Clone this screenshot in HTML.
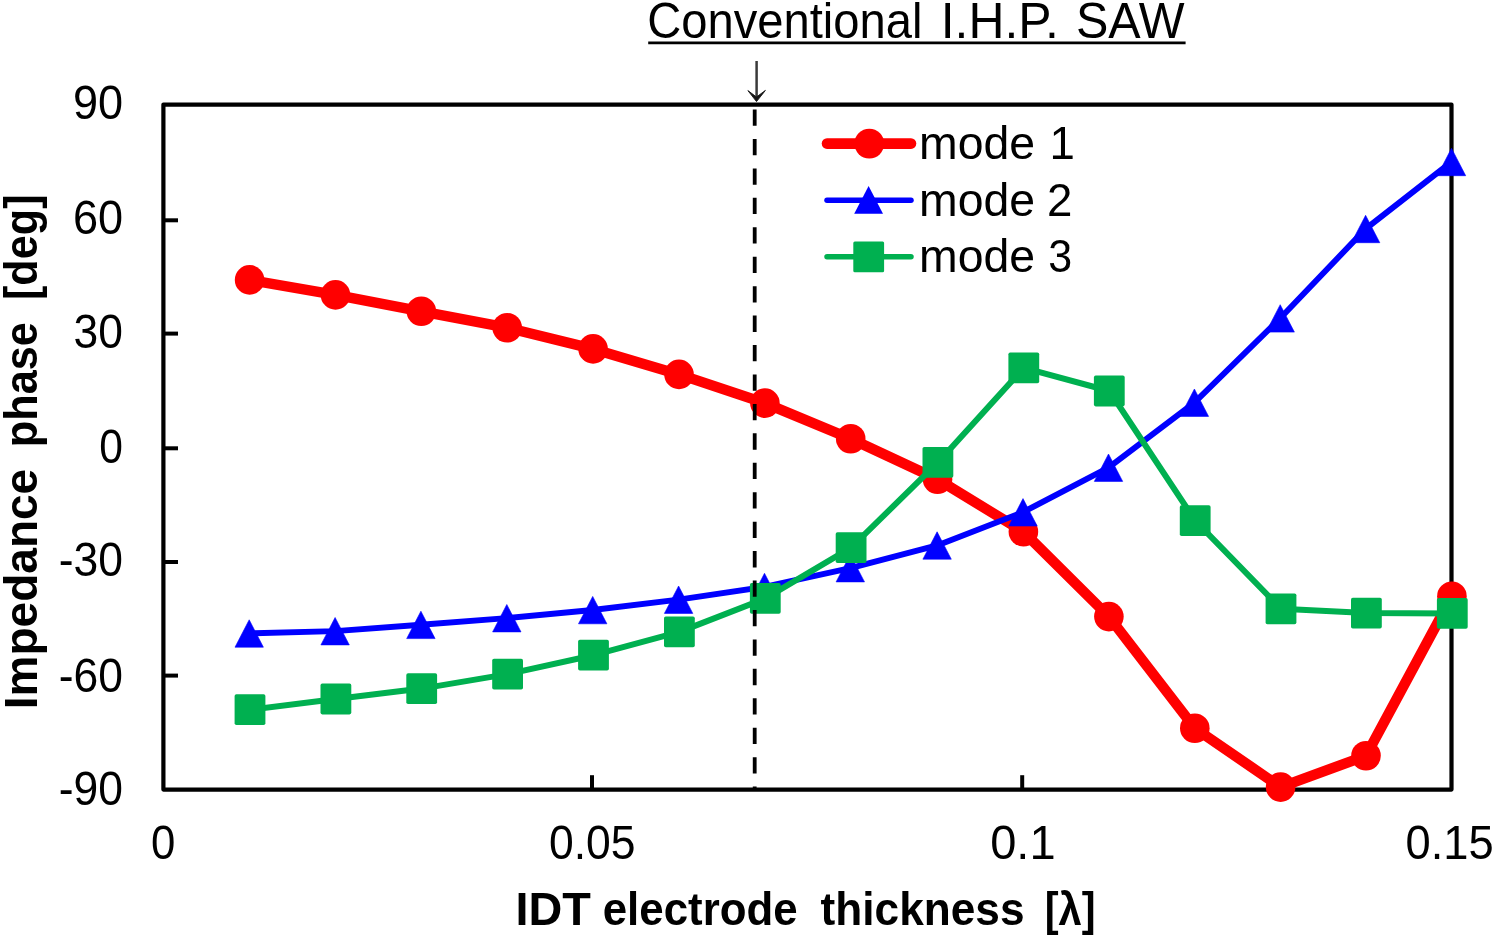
<!DOCTYPE html>
<html lang="en"><head><meta charset="utf-8"><title>Impedance phase vs IDT electrode thickness</title>
<style>
html,body{margin:0;padding:0;background:#fff;}
body{width:1493px;height:936px;overflow:hidden;}
svg{display:block;}
text{font-family:"Liberation Sans",sans-serif;fill:#000;}
.b{font-weight:bold;}
</style></head><body>
<svg width="1493" height="936" viewBox="0 0 1493 936">
<rect width="1493" height="936" fill="#fff"/>
<rect x="163.4" y="104.6" width="1288.1" height="685.0" fill="none" stroke="#000" stroke-width="4.2" stroke-linejoin="round"/>
<line x1="163.4" y1="220.3" x2="178.0" y2="220.3" stroke="#000" stroke-width="4"/>
<line x1="163.4" y1="333.6" x2="178.0" y2="333.6" stroke="#000" stroke-width="4"/>
<line x1="163.4" y1="448.3" x2="178.0" y2="448.3" stroke="#000" stroke-width="4"/>
<line x1="163.4" y1="562.0" x2="178.0" y2="562.0" stroke="#000" stroke-width="4"/>
<line x1="163.4" y1="675.6" x2="178.0" y2="675.6" stroke="#000" stroke-width="4"/>
<line x1="592.0" y1="789.6" x2="592.0" y2="775.2" stroke="#000" stroke-width="4"/>
<line x1="1022.2" y1="789.6" x2="1022.2" y2="775.2" stroke="#000" stroke-width="4"/>
<polyline points="249.6,279.9 335.5,294.9 421.3,311.3 507.2,327.7 593.1,348.9 679.0,374.4 764.9,403.1 850.7,438.7 937.5,479.3 1023.4,531.7 1108.9,616.6 1194.8,728.2 1280.6,787.1 1366.0,755.8 1451.9,596.3" fill="none" stroke="#ff0000" stroke-width="10.4" stroke-linejoin="round" stroke-linecap="round"/>
<circle cx="249.6" cy="279.9" r="14.8" fill="#ff0000"/>
<circle cx="335.5" cy="294.9" r="14.8" fill="#ff0000"/>
<circle cx="421.3" cy="311.3" r="14.8" fill="#ff0000"/>
<circle cx="507.2" cy="327.7" r="14.8" fill="#ff0000"/>
<circle cx="593.1" cy="348.9" r="14.8" fill="#ff0000"/>
<circle cx="679.0" cy="374.4" r="14.8" fill="#ff0000"/>
<circle cx="764.9" cy="403.1" r="14.8" fill="#ff0000"/>
<circle cx="850.7" cy="438.7" r="14.8" fill="#ff0000"/>
<circle cx="937.5" cy="479.3" r="14.8" fill="#ff0000"/>
<circle cx="1023.4" cy="531.7" r="14.8" fill="#ff0000"/>
<circle cx="1108.9" cy="616.6" r="14.8" fill="#ff0000"/>
<circle cx="1194.8" cy="728.2" r="14.8" fill="#ff0000"/>
<circle cx="1280.6" cy="787.1" r="14.8" fill="#ff0000"/>
<circle cx="1366.0" cy="755.8" r="14.8" fill="#ff0000"/>
<circle cx="1451.9" cy="596.3" r="14.8" fill="#ff0000"/>
<polyline points="249.2,633.4 335.1,631.1 420.9,624.8 506.8,618.1 592.7,610.0 678.6,599.6 764.5,586.9 850.3,568.1 937.1,545.4 1023.0,512.2 1108.5,467.6 1194.4,402.6 1280.2,318.3 1365.6,228.9 1451.5,161.9" fill="none" stroke="#0000ff" stroke-width="5.9" stroke-linejoin="round" stroke-linecap="round"/>
<polygon points="249.2,619.8 263.4,647.2 235.0,647.2" fill="#0000ff" stroke="#0000ff" stroke-width="0.6" stroke-linejoin="round"/>
<polygon points="335.1,617.5 349.3,644.9 320.9,644.9" fill="#0000ff" stroke="#0000ff" stroke-width="0.6" stroke-linejoin="round"/>
<polygon points="420.9,611.2 435.1,638.6 406.7,638.6" fill="#0000ff" stroke="#0000ff" stroke-width="0.6" stroke-linejoin="round"/>
<polygon points="506.8,604.5 521.0,631.9 492.6,631.9" fill="#0000ff" stroke="#0000ff" stroke-width="0.6" stroke-linejoin="round"/>
<polygon points="592.7,596.4 606.9,623.8 578.5,623.8" fill="#0000ff" stroke="#0000ff" stroke-width="0.6" stroke-linejoin="round"/>
<polygon points="678.6,586.0 692.8,613.4 664.4,613.4" fill="#0000ff" stroke="#0000ff" stroke-width="0.6" stroke-linejoin="round"/>
<polygon points="764.5,573.3 778.7,600.7 750.3,600.7" fill="#0000ff" stroke="#0000ff" stroke-width="0.6" stroke-linejoin="round"/>
<polygon points="850.3,554.5 864.5,581.9 836.1,581.9" fill="#0000ff" stroke="#0000ff" stroke-width="0.6" stroke-linejoin="round"/>
<polygon points="937.1,531.8 951.3,559.2 922.9,559.2" fill="#0000ff" stroke="#0000ff" stroke-width="0.6" stroke-linejoin="round"/>
<polygon points="1023.0,498.6 1037.2,526.0 1008.8,526.0" fill="#0000ff" stroke="#0000ff" stroke-width="0.6" stroke-linejoin="round"/>
<polygon points="1108.5,454.0 1122.7,481.4 1094.3,481.4" fill="#0000ff" stroke="#0000ff" stroke-width="0.6" stroke-linejoin="round"/>
<polygon points="1194.4,389.0 1208.6,416.4 1180.2,416.4" fill="#0000ff" stroke="#0000ff" stroke-width="0.6" stroke-linejoin="round"/>
<polygon points="1280.2,304.7 1294.4,332.1 1266.0,332.1" fill="#0000ff" stroke="#0000ff" stroke-width="0.6" stroke-linejoin="round"/>
<polygon points="1365.6,215.3 1379.8,242.7 1351.4,242.7" fill="#0000ff" stroke="#0000ff" stroke-width="0.6" stroke-linejoin="round"/>
<polygon points="1451.5,148.3 1465.7,175.7 1437.3,175.7" fill="#0000ff" stroke="#0000ff" stroke-width="0.6" stroke-linejoin="round"/>
<polyline points="250.0,709.7 335.9,699.0 421.7,688.6 507.6,674.1 593.5,655.2 679.4,631.9 765.3,598.4 851.1,547.7 937.9,462.4 1023.8,367.8 1109.3,391.0 1195.2,520.6 1281.0,608.8 1366.4,613.1 1452.3,613.4" fill="none" stroke="#00b050" stroke-width="6.0" stroke-linejoin="round" stroke-linecap="round"/>
<rect x="234.6" y="694.3" width="30.8" height="30.8" rx="1.8" fill="#00b050"/>
<rect x="320.5" y="683.6" width="30.8" height="30.8" rx="1.8" fill="#00b050"/>
<rect x="406.3" y="673.2" width="30.8" height="30.8" rx="1.8" fill="#00b050"/>
<rect x="492.2" y="658.7" width="30.8" height="30.8" rx="1.8" fill="#00b050"/>
<rect x="578.1" y="639.8" width="30.8" height="30.8" rx="1.8" fill="#00b050"/>
<rect x="664.0" y="616.5" width="30.8" height="30.8" rx="1.8" fill="#00b050"/>
<rect x="749.9" y="583.0" width="30.8" height="30.8" rx="1.8" fill="#00b050"/>
<rect x="835.7" y="532.3" width="30.8" height="30.8" rx="1.8" fill="#00b050"/>
<rect x="922.5" y="447.0" width="30.8" height="30.8" rx="1.8" fill="#00b050"/>
<rect x="1008.4" y="352.4" width="30.8" height="30.8" rx="1.8" fill="#00b050"/>
<rect x="1093.9" y="375.6" width="30.8" height="30.8" rx="1.8" fill="#00b050"/>
<rect x="1179.8" y="505.2" width="30.8" height="30.8" rx="1.8" fill="#00b050"/>
<rect x="1265.6" y="593.4" width="30.8" height="30.8" rx="1.8" fill="#00b050"/>
<rect x="1351.0" y="597.7" width="30.8" height="30.8" rx="1.8" fill="#00b050"/>
<rect x="1436.9" y="598.0" width="30.8" height="30.8" rx="1.8" fill="#00b050"/>
<line x1="754.7" y1="109.5" x2="754.7" y2="789.6" stroke="#000" stroke-width="3.8" stroke-dasharray="16.3 13.14"/>
<line x1="756.6" y1="61" x2="756.6" y2="98" stroke="#3a3a3a" stroke-width="2.5"/>
<polygon points="747.9,90.6 756.5,101.6 765.4,90.4 756.5,97.0" fill="#151515" stroke="#151515" stroke-width="0.9" stroke-linejoin="round"/>
<line x1="648.2" y1="42.9" x2="1185.6" y2="42.9" stroke="#000" stroke-width="2.7"/>
<line x1="827" y1="143.6" x2="911" y2="143.6" stroke="#ff0000" stroke-width="10.6" stroke-linecap="round"/>
<circle cx="869.3" cy="143.6" r="14.9" fill="#ff0000"/>
<line x1="827" y1="200.3" x2="911" y2="200.3" stroke="#0000ff" stroke-width="5.5" stroke-linecap="round"/>
<polygon points="868.6,186.1 883,213.7 854.2,213.7" fill="#0000ff"/>
<line x1="827" y1="256.8" x2="911" y2="256.8" stroke="#00b050" stroke-width="5.5" stroke-linecap="round"/>
<rect x="853.3" y="241.4" width="30.8" height="30.8" rx="1.5" fill="#00b050"/>
<text font-size="50.6"><tspan x="647.19" y="37.9" textLength="275.22" lengthAdjust="spacingAndGlyphs">Conventional</tspan> <tspan x="940.71" y="37.9" textLength="118.2" lengthAdjust="spacingAndGlyphs">I.H.P.</tspan> <tspan x="1075.98" y="37.9" textLength="108.67" lengthAdjust="spacingAndGlyphs">SAW</tspan></text>
<text font-size="48.2"><tspan x="72.89" y="119.3" textLength="50.14" lengthAdjust="spacingAndGlyphs">90</tspan></text>
<text font-size="48.2"><tspan x="72.89" y="234.3" textLength="50.14" lengthAdjust="spacingAndGlyphs">60</tspan></text>
<text font-size="48.2"><tspan x="73.61" y="348.0" textLength="49.39" lengthAdjust="spacingAndGlyphs">30</tspan></text>
<text font-size="48.2"><tspan x="99.27" y="463.0" textLength="23.69" lengthAdjust="spacingAndGlyphs">0</tspan></text>
<text font-size="48.2"><tspan x="58.81" y="576.1" textLength="64.19" lengthAdjust="spacingAndGlyphs">-30</tspan></text>
<text font-size="48.2"><tspan x="58.81" y="691.5" textLength="64.19" lengthAdjust="spacingAndGlyphs">-60</tspan></text>
<text font-size="48.2"><tspan x="58.81" y="805.1" textLength="64.19" lengthAdjust="spacingAndGlyphs">-90</tspan></text>
<text font-size="48.2"><tspan x="150.93" y="858.9" textLength="24.36" lengthAdjust="spacingAndGlyphs">0</tspan></text>
<text font-size="48.2"><tspan x="548.91" y="858.9" textLength="86.59" lengthAdjust="spacingAndGlyphs">0.05</tspan></text>
<text font-size="48.2"><tspan x="990.13" y="858.9" textLength="65.44" lengthAdjust="spacingAndGlyphs">0.1</tspan></text>
<text font-size="48.2"><tspan x="1405.58" y="858.9" textLength="88.15" lengthAdjust="spacingAndGlyphs">0.15</tspan></text>
<text class="b" font-size="46.8"><tspan x="515.47" y="925.4" textLength="75.39" lengthAdjust="spacingAndGlyphs">IDT</tspan> <tspan x="602.73" y="925.4" textLength="194.96" lengthAdjust="spacingAndGlyphs">electrode</tspan> <tspan x="820.6" y="925.4" textLength="203.89" lengthAdjust="spacingAndGlyphs">thickness</tspan> <tspan x="1044.75" y="925.4" textLength="50.8" lengthAdjust="spacingAndGlyphs">[λ]</tspan></text>
<text class="b" transform="translate(36.5,720.0) rotate(-90)" font-size="46.8"><tspan x="10.72" y="0" textLength="240.52" lengthAdjust="spacingAndGlyphs">Impedance</tspan> <tspan x="272.8" y="0" textLength="125.08" lengthAdjust="spacingAndGlyphs">phase</tspan> <tspan x="419.98" y="0" textLength="105.56" lengthAdjust="spacingAndGlyphs">[deg]</tspan></text>
<text font-size="45.6"><tspan x="919.1" y="159.0" textLength="116.08" lengthAdjust="spacingAndGlyphs">mode</tspan> <tspan x="1049.59" y="159.0" textLength="25.36" lengthAdjust="spacingAndGlyphs">1</tspan></text>
<text font-size="45.6"><tspan x="919.1" y="215.7" textLength="116.08" lengthAdjust="spacingAndGlyphs">mode</tspan> <tspan x="1046.96" y="215.7" textLength="25.39" lengthAdjust="spacingAndGlyphs">2</tspan></text>
<text font-size="45.6"><tspan x="919.1" y="272.0" textLength="116.08" lengthAdjust="spacingAndGlyphs">mode</tspan> <tspan x="1048.36" y="272.0" textLength="23.88" lengthAdjust="spacingAndGlyphs">3</tspan></text>
</svg></body></html>
